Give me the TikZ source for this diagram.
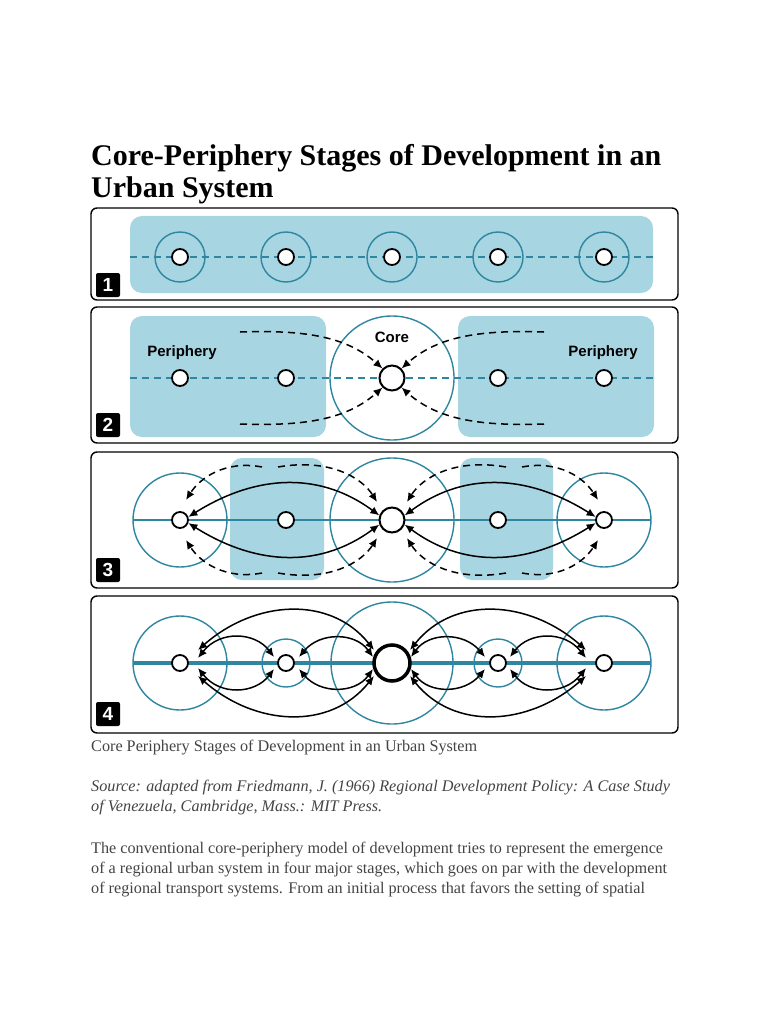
\documentclass[tikz,border=0pt]{standalone}
\usepackage{fontspec}
\setmainfont{Liberation Serif}
\newfontfamily\lsans{Liberation Sans}
\usetikzlibrary{arrows.meta}
\definecolor{paleblue}{HTML}{A8D5E2}
\definecolor{teal}{HTML}{2E86A0}
\definecolor{txtgray}{HTML}{444444}
\tikzset{
 panel/.style={draw=black,line width=1.4pt,rounded corners=6pt},
 bluearea/.style={fill=paleblue,rounded corners=12pt},
 zone/.style={draw=teal,line width=1.4pt},
 town/.style={circle,draw=black,line width=1.8pt,fill=white,minimum size=16pt,inner sep=0pt},
 coretown/.style={circle,draw=black,line width=2pt,fill=white,minimum size=25pt,inner sep=0pt},
 numlab/.style={fill=black,text=white,rounded corners=2pt,minimum size=24pt,inner sep=0pt,font=\lsans\bfseries\fontsize{19}{19}\selectfont},
 flow/.style={black,line width=1.5pt,{Latex[length=9pt,width=8pt]}-{Latex[length=9pt,width=8pt]}},
 dflow/.style={black,line width=1.5pt,dashed,dash pattern=on 7pt off 5pt,-{Latex[length=9pt,width=8pt]}},
 lab/.style={font=\lsans\bfseries\fontsize{15}{15}\selectfont},
}
\begin{document}
\begin{tikzpicture}[x=1pt,y=-1pt]
\useasboundingbox[fill=white] (0,0) rectangle (768,1024);
% title
\node[anchor=base west,font=\bfseries\fontsize{30}{30}\selectfont,inner sep=0] (t1) at (91,166) {Core-Periphery Stages of Development in an};
\node[anchor=base west,font=\bfseries\fontsize{30}{30}\selectfont,inner sep=0] (t2) at (91,198) {Urban System};
% ---------- panel 1
\draw[panel] (91,208) rectangle (678,300);
\fill[bluearea] (130,216) rectangle (653,293);
\draw[teal,line width=1.4pt,dashed,dash pattern=on 7pt off 5pt] (130,257) -- (653,257);
\foreach \i/\x in {1/180,2/286,3/392,4/498,5/604}{
 \draw[zone] (\x,257) circle (25);
 \node[town] (p1n\i) at (\x,257) {};
}
\node[numlab] (l1) at (108,285) {1};
% ---------- panel 2
\draw[panel] (91,307) rectangle (678,443);
\fill[bluearea] (130,316) rectangle (326,437);
\fill[bluearea] (458,316) rectangle (654,437);
\draw[zone,fill=white] (392,378) circle (62);
\draw[teal,line width=1.4pt,dashed,dash pattern=on 7pt off 5pt] (130,378) -- (653,378);
\node[town] (p2a) at (180,378) {};
\node[town] (p2b) at (286,378) {};
\node[coretown] (p2c) at (392,378) {};
\node[town] (p2d) at (498,378) {};
\node[town] (p2e) at (604,378) {};
\node[lab] (per1) at (182,353) {Periphery};
\node[lab] (per2) at (603,353) {Periphery};
\node[lab] (core) at (392,337) {Core};
\coordinate (d2a) at (240,332); \coordinate (d2b) at (240,424);
\coordinate (d2c) at (544,332); \coordinate (d2d) at (544,424);
\draw[dflow] (d2a) .. controls (300,330) and (345,335) .. (p2c.135);
\draw[dflow] (d2b) .. controls (300,426) and (345,421) .. (p2c.225);
\draw[dflow] (d2c) .. controls (484,330) and (439,335) .. (p2c.45);
\draw[dflow] (d2d) .. controls (484,426) and (439,421) .. (p2c.315);
\node[numlab] (l2) at (108,425) {2};
% ---------- panel 3
\draw[panel] (91,452) rectangle (678,588);
\fill[bluearea] (230,458) rectangle (324,580);
\fill[bluearea] (460,458) rectangle (553,580);
\draw[zone] (180,520) circle (47);
\draw[zone] (604,520) circle (47);
\draw[zone] (392,520) circle (62);
\draw[teal,line width=1.2pt] (133,520) -- (651,520);
\node[town] (p3a) at (180,520) {};
\node[town] (p3b) at (286,520) {};
\node[coretown] (p3c) at (392,520) {};
\node[town] (p3d) at (498,520) {};
\node[town] (p3e) at (604,520) {};
\draw[flow] (p3a.20) .. controls (250,478) and (315,468) .. (p3c.160);
\draw[flow] (p3a.-20) .. controls (250,562) and (315,572) .. (p3c.200);
\draw[flow] (p3e.160) .. controls (534,478) and (469,468) .. (p3c.20);
\draw[flow] (p3e.200) .. controls (534,562) and (469,572) .. (p3c.-20);
\coordinate (d3a) at (262,467); \coordinate (d3b) at (278,467);
\coordinate (d3c) at (262,573); \coordinate (d3d) at (278,573);
\coordinate (d3e) at (522,467); \coordinate (d3f) at (506,467);
\coordinate (d3g) at (522,573); \coordinate (d3h) at (506,573);
\draw[dflow] (d3a) .. controls (225,460) and (200,478) .. (186,500);
\draw[dflow] (d3b) .. controls (330,458) and (362,478) .. (377,502);
\draw[dflow] (d3c) .. controls (225,580) and (200,562) .. (186,540);
\draw[dflow] (d3d) .. controls (330,582) and (362,562) .. (377,538);
\draw[dflow] (d3e) .. controls (559,460) and (584,478) .. (598,500);
\draw[dflow] (d3f) .. controls (454,458) and (422,478) .. (407,502);
\draw[dflow] (d3g) .. controls (559,580) and (584,562) .. (598,540);
\draw[dflow] (d3h) .. controls (454,582) and (422,562) .. (407,538);
\node[numlab] (l3) at (108,570) {3};
% ---------- panel 4
\draw[panel] (91,596) rectangle (678,733);
\draw[zone] (180,663) circle (47);
\draw[zone] (604,663) circle (47);
\draw[zone] (286,663) circle (24);
\draw[zone] (498,663) circle (24);
\draw[zone] (392,663) circle (61);
\draw[teal,line width=3.5pt] (133,663) -- (651,663);
\node[town] (p4a) at (180,663) {};
\node[town] (p4b) at (286,663) {};
\node[coretown,minimum size=36pt,line width=3.5pt] (p4c) at (392,663) {};
\node[town] (p4d) at (498,663) {};
\node[town] (p4e) at (604,663) {};
% long arcs
\draw[flow] (198,650) .. controls (255,600) and (330,595) .. (374,650);
\draw[flow] (198,676) .. controls (255,726) and (330,731) .. (374,676);
\draw[flow] (586,650) .. controls (529,600) and (454,595) .. (410,650);
\draw[flow] (586,676) .. controls (529,726) and (454,731) .. (410,676);
% short arcs
\draw[flow] (198,658) .. controls (220,630) and (255,632) .. (274,657);
\draw[flow] (198,668) .. controls (220,696) and (255,694) .. (274,669);
\draw[flow] (299,657) .. controls (320,632) and (355,632) .. (373,657);
\draw[flow] (299,669) .. controls (320,694) and (355,694) .. (373,669);
\draw[flow] (586,658) .. controls (564,630) and (529,632) .. (510,657);
\draw[flow] (586,668) .. controls (564,696) and (529,694) .. (510,669);
\draw[flow] (485,657) .. controls (464,632) and (429,632) .. (411,657);
\draw[flow] (485,669) .. controls (464,694) and (429,694) .. (411,669);
\node[numlab] (l4) at (108,714) {4};
% ---------- texts
\node[anchor=base west,inner sep=0,text=txtgray,font=\fontsize{16.2}{16}\selectfont] (cap) at (91,751) {Core Periphery Stages of Development in an Urban System};
\node[anchor=north west,inner sep=0,text=txtgray,align=left,font=\itshape\fontsize{16.2}{20}\selectfont] (src) at (91,780) {Source: adapted from Friedmann, J. (1966) Regional Development Policy: A Case Study\\of Venezuela, Cambridge, Mass.: MIT Press.};
\node[anchor=north west,inner sep=0,text=txtgray,align=left,font=\fontsize{16.2}{20}\selectfont] (par) at (91,842) {The conventional core-periphery model of development tries to represent the emergence\\of a regional urban system in four major stages, which goes on par with the development\\of regional transport systems. From an initial process that favors the setting of spatial};
\end{tikzpicture}
\end{document}
